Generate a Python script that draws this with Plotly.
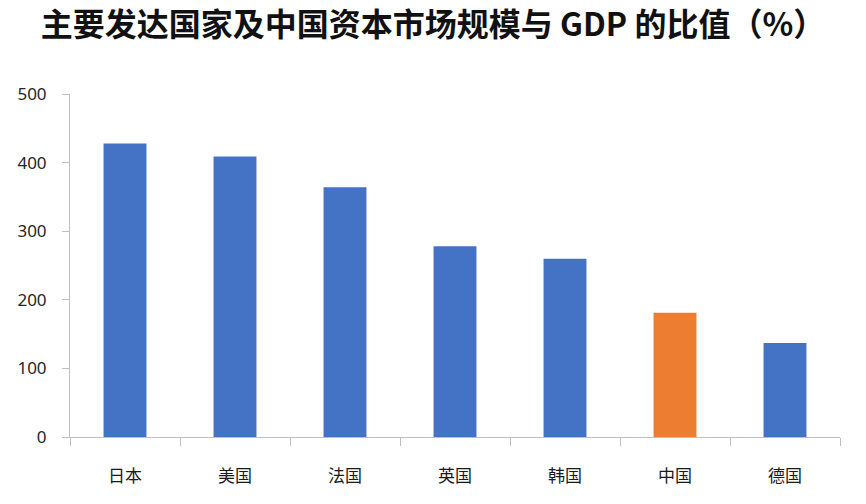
import plotly.graph_objects as go

categories = ["日本", "美国", "法国", "英国", "韩国", "中国", "德国"]
values = [428, 409, 364, 278, 260, 181, 137]
highlight = "中国"
y_ticks = [0, 100, 200, 300, 400, 500]

blue = "#4472C4"
orange = "#ED7D31"
colors = [orange if c == highlight else blue for c in categories]

fig = go.Figure(go.Bar(x=categories, y=values, marker=dict(color=colors, line=dict(width=0)),
                       width=0.39, hoverinfo="x+y"))

fig.update_layout(
    width=866, height=504,
    margin=dict(l=70, r=26, t=94, b=67),
    paper_bgcolor="white", plot_bgcolor="white",
    showlegend=False,
    title=dict(text="<b>主要发达国家及中国资本市场规模与 GDP 的比值（%）</b>",
               x=0.5, xanchor="center", y=0.95, yanchor="middle",
               font=dict(family="Noto Sans CJK SC", size=32, color="#111111")),
    font=dict(family="Noto Sans CJK SC", color="#222222"),
)
fig.update_xaxes(
    type="category", showgrid=False, showline=True, linecolor="#BFBFBF", linewidth=1,
    ticks="outside", tickson="boundaries", ticklen=8, tickcolor="#BFBFBF",
    tickfont=dict(family="Noto Sans CJK SC", size=17, color="#1a1a1a"),
    ticklabelstandoff=24,
)
fig.update_yaxes(
    range=[0, 500], tickvals=y_ticks, showgrid=False, showline=True, linecolor="#BFBFBF",
    linewidth=1, ticks="outside", ticklen=7, tickcolor="#BFBFBF", zeroline=False,
    tickfont=dict(family="Noto Sans", size=17, color="#262626"),
    ticklabelstandoff=12,
)

fig.write_html("out.html")
